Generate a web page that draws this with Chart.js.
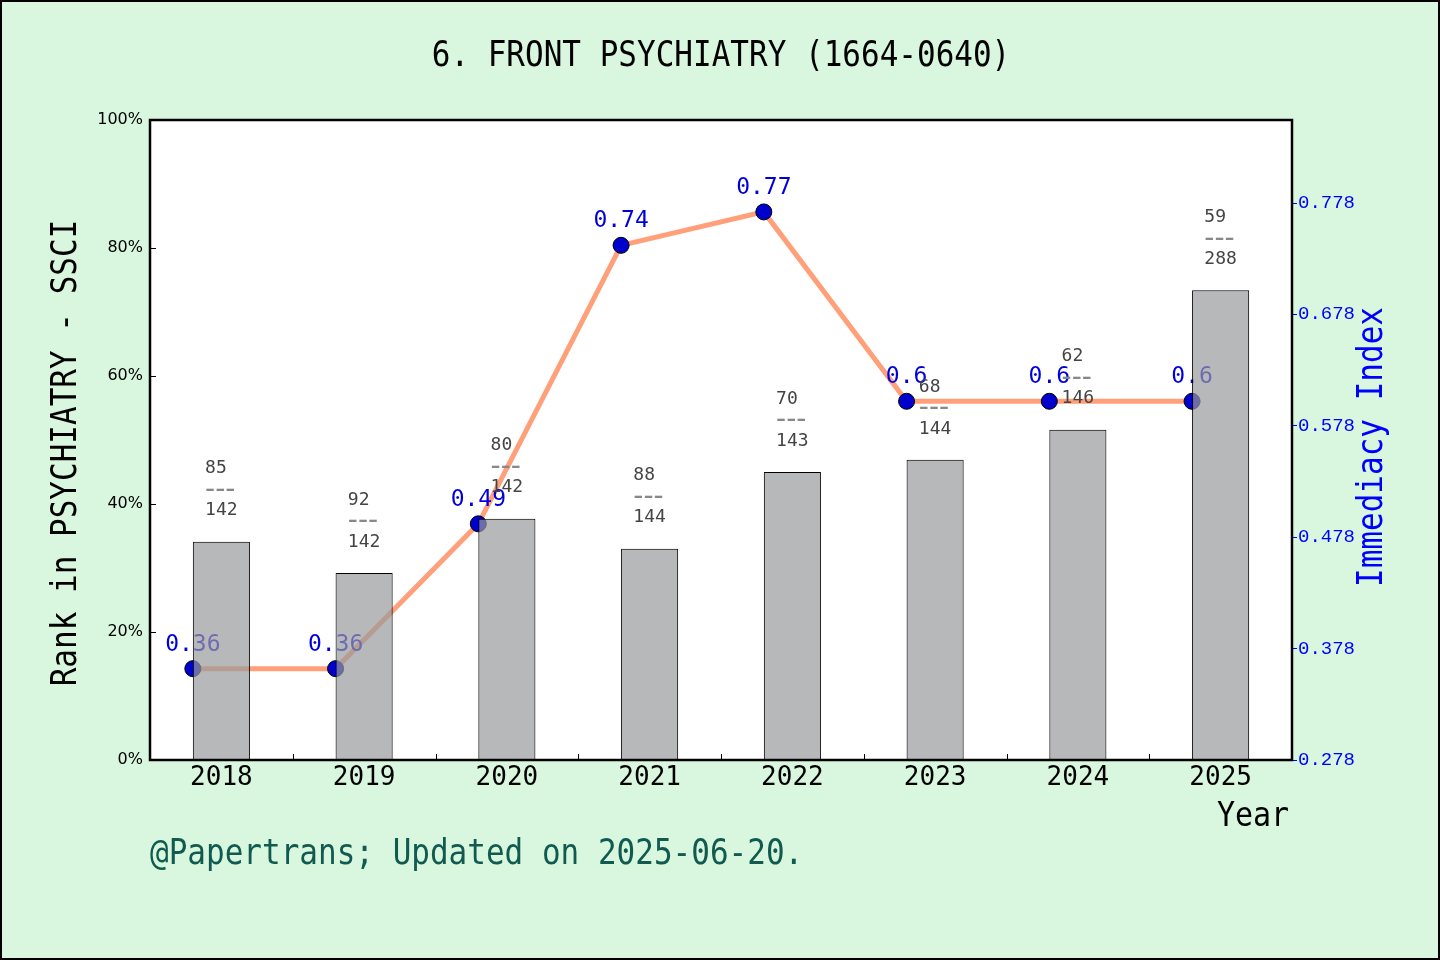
<!DOCTYPE html>
<html>
<head>
<meta charset="utf-8">
<script src="https://cdn.jsdelivr.net/npm/chart.js@4.4.1/dist/chart.umd.min.js"></script>
<style>
  html, body { margin: 0; padding: 0; background: #d9f7de; }
  canvas { display: block; }
</style>
</head>
<body>
<canvas id="c" width="1440" height="960"></canvas>
<script>
// ---- data ----
const categories = ['2018', '2019', '2020', '2021', '2022', '2023', '2024', '2025'];
const rankPercent = [34.1, 29.2, 37.7, 33.0, 45.0, 46.9, 51.6, 73.4];
const rankNumber = [85, 92, 80, 88, 70, 68, 62, 59];
const rankTotal = [142, 142, 142, 144, 143, 144, 146, 288];
const immediacyIndex = [0.36, 0.36, 0.49, 0.74, 0.77, 0.6, 0.6, 0.6];
const leftTicks = [0, 20, 40, 60, 80, 100];
const rightTicks = [0.278, 0.378, 0.478, 0.578, 0.678, 0.778];

const titleText = '6. FRONT PSYCHIATRY (1664-0640)';
const leftTitle = 'Rank in PSYCHIATRY - SSCI';
const rightTitle = 'Immediacy Index';
const xTitle = 'Year';
const footerText = '@Papertrans; Updated on 2025-06-20.';

// ---- style ----
const BG = '#d9f7de';
const BAR_FRACTION = 0.4;
const MONO = "'DejaVu Sans Mono', 'Liberation Mono', monospace";
const SANS = "'DejaVu Sans', 'Liberation Sans', sans-serif";
const RIGHT_MAX = 0.278 + 0.5 * 640 / 557;

function drawText(ctx, text, x, y, opts) {
  ctx.save();
  ctx.translate(x, y);
  if (opts.rotate) ctx.rotate(opts.rotate);
  ctx.scale(opts.sx || 1, opts.sy || 1);
  ctx.font = opts.font;
  ctx.fillStyle = opts.color || '#000';
  ctx.textAlign = opts.align || 'center';
  ctx.textBaseline = 'middle';
  ctx.fillText(text, 0, 0);
  ctx.restore();
}

const decor = {
  id: 'decor',
  beforeDraw(chart) {
    const ctx = chart.ctx;
    ctx.save();
    ctx.fillStyle = BG;
    ctx.fillRect(0, 0, chart.width, chart.height);
    const a = chart.chartArea;
    ctx.fillStyle = '#ffffff';
    ctx.fillRect(a.left, a.top, a.right - a.left, a.bottom - a.top);
    ctx.strokeStyle = '#000';
    ctx.lineWidth = 2;
    ctx.strokeRect(1, 1, chart.width - 2, chart.height - 2);
    ctx.restore();
  },
  afterDatasetDraw(chart, args) {
    // value labels of the line: drawn before the bars so bars overlay them
    if (args.index !== 1) return;
    const ctx = chart.ctx;
    const meta = chart.getDatasetMeta(1);
    meta.data.forEach((pt, i) => {
      drawText(ctx, String(immediacyIndex[i]), pt.x, pt.y - 24,
        { font: '23px ' + MONO, color: '#0000dd' });
    });
  },
  afterDatasetsDraw(chart) {
    const ctx = chart.ctx;
    const a = chart.chartArea;
    // bar labels
    const meta = chart.getDatasetMeta(0);
    ctx.save();
    ctx.font = '18px ' + MONO;
    meta.data.forEach((bar, i) => {
      const top = String(rankNumber[i]);
      const bottom = String(rankTotal[i]);
      const w = Math.max(ctx.measureText(top).width, ctx.measureText(bottom).width);
      const left = bar.x - w / 2;
      const base = bar.y - 31;
      drawText(ctx, bottom, left, base, { font: '18px ' + MONO, color: '#444', align: 'left' });
      drawText(ctx, '---', left, base - 20, { font: '28px ' + SANS, color: '#888', align: 'left' });
      drawText(ctx, top, left, base - 42, { font: '18px ' + MONO, color: '#444', align: 'left' });
    });
    ctx.restore();

    // inside ticks
    ctx.save();
    ctx.strokeStyle = '#000';
    ctx.lineWidth = 1;
    const xs = chart.scales.x;
    const half = (xs.getPixelForTick(1) - xs.getPixelForTick(0)) / 2;
    for (let i = 0; i < categories.length - 1; i++) {
      const px = Math.round(xs.getPixelForTick(i) + half) + 0.5;
      ctx.beginPath();
      ctx.moveTo(px, a.bottom);
      ctx.lineTo(px, a.bottom - 6);
      ctx.stroke();
    }
    const ys = chart.scales.y;
    leftTicks.forEach(v => {
      const py = Math.round(ys.getPixelForValue(v)) + 0.5;
      ctx.beginPath();
      ctx.moveTo(a.left, py);
      ctx.lineTo(a.left + 6, py);
      ctx.stroke();
    });
    // frame
    ctx.lineWidth = 2.5;
    ctx.strokeRect(a.left, a.top, a.right - a.left, a.bottom - a.top);
    ctx.restore();
  },
  afterDraw(chart) {
    const ctx = chart.ctx;
    drawText(ctx, titleText, 721, 57, { font: '31px ' + MONO, sy: 1.15 });
    drawText(ctx, leftTitle, 67, 453, { font: '31px ' + MONO, sy: 1.15, rotate: -Math.PI / 2 });
    drawText(ctx, rightTitle, 1373, 447, { font: '31px ' + MONO, sy: 1.15, rotate: -Math.PI / 2, color: '#0000ff' });
    drawText(ctx, xTitle, 1253, 817, { font: '30px ' + MONO, sy: 1.15 });
    drawText(ctx, footerText, 150, 855, { font: '31px ' + MONO, sy: 1.15, align: 'left', color: '#105a50' });
  }
};

const chart = new Chart(document.getElementById('c'), {
  type: 'bar',
  data: {
    labels: categories,
    datasets: [
      {
        type: 'bar',
        label: 'Rank',
        data: rankPercent,
        xAxisID: 'x',
        yAxisID: 'y',
        backgroundColor: 'rgba(153,154,157,0.7)',
        borderColor: '#000',
        borderWidth: 1,
        barPercentage: BAR_FRACTION,
        categoryPercentage: 1.0,
        grouped: false,
        order: 0
      },
      {
        type: 'line',
        label: 'Immediacy Index',
        data: immediacyIndex.map((v, i) => ({ x: i - BAR_FRACTION / 2, y: v })),
        xAxisID: 'x2',
        yAxisID: 'y2',
        borderColor: '#ffa07a',
        borderWidth: 5,
        pointRadius: 8,
        pointHoverRadius: 8,
        pointBackgroundColor: '#0000cd',
        pointBorderColor: '#000',
        pointBorderWidth: 1,
        tension: 0,
        order: 1
      }
    ]
  },
  options: {
    responsive: false,
    animation: false,
    devicePixelRatio: 1,
    layout: { padding: { left: 0, right: 0, top: 120, bottom: 0 } },
    plugins: {
      legend: { display: false },
      tooltip: { enabled: false },
      title: { display: false }
    },
    scales: {
      x: {
        type: 'category',
        position: 'bottom',
        offset: true,
        grid: { display: false, drawTicks: false },
        border: { display: false },
        ticks: { color: '#000', font: { family: MONO, size: 26 }, padding: 3, maxRotation: 0 },
        afterFit(s) { s.height = 200; }
      },
      x2: {
        type: 'linear',
        display: false,
        offset: false,
        bounds: 'data',
        grid: { offset: false },
        min: -0.5,
        max: categories.length - 0.5
      },
      y: {
        position: 'left',
        min: 0,
        max: 100,
        grid: { drawOnChartArea: false, drawTicks: false },
        border: { display: false },
        afterBuildTicks(s) { s.ticks = leftTicks.map(v => ({ value: v })); },
        ticks: {
          color: '#000',
          font: { family: SANS, size: 16 },
          padding: 7,
          callback: v => v + '%'
        },
        afterFit(s) { s.width = 150; }
      },
      y2: {
        position: 'right',
        min: 0.278,
        max: RIGHT_MAX,
        grid: { drawOnChartArea: false, drawTicks: true, tickLength: 5, color: '#0000ff' },
        border: { display: false },
        afterBuildTicks(s) { s.ticks = rightTicks.map(v => ({ value: v })); },
        ticks: {
          color: '#0000ff',
          font: { family: "'Liberation Mono', 'DejaVu Sans Mono', monospace", size: 19 },
          padding: 1,
          callback: v => v.toFixed(3)
        },
        afterFit(s) { s.width = 148; }
      }
    }
  },
  plugins: [decor]
});
</script>
</body>
</html>
